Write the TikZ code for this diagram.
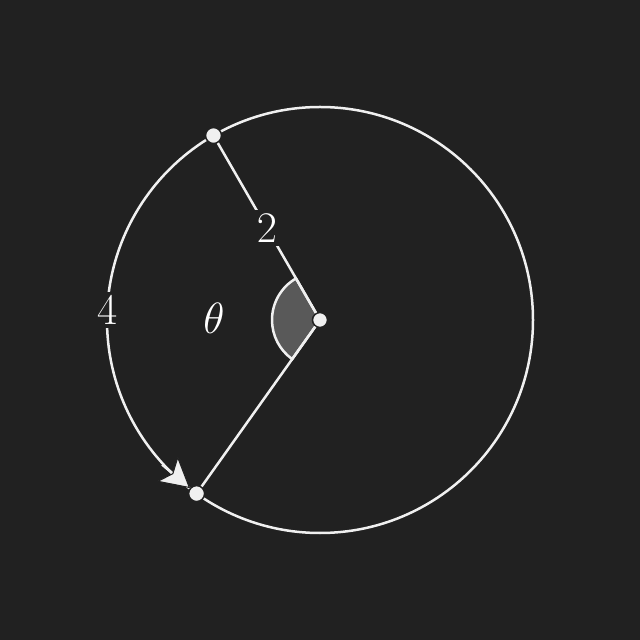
\documentclass[tikz,border=0pt]{standalone}
\usepackage{amsmath}
\usetikzlibrary{arrows.meta}
\usetikzlibrary{calc}
\usetikzlibrary{positioning}
\definecolor{bg}{HTML}{212121}
\definecolor{fg}{HTML}{F0F0F0}
\definecolor{wedge}{HTML}{595959}
\begin{document}
\begin{tikzpicture}[line width=0.05cm,fg,
  dot/.style={draw=bg,line width=0.03cm,circle,fill=fg,inner sep=0pt,minimum size=0.32cm},
  lbl/.style={fill=bg,inner sep=2pt,text=white,font=\fontsize{24}{28}\selectfont}]
  \fill[bg] (-6.4,-6.4) rectangle (6.4,6.4);
  \useasboundingbox (-6.4,-6.4) rectangle (6.4,6.4);

  \coordinate (0) at (0:0);
  \coordinate (b) at (234.59:4.26);
  \draw[fill=wedge] (0) -- (120:0.96) arc (120:234.59:0.96) -- cycle;
  \draw (0) circle (4.26);

  \coordinate (tip) at ($(b)+(140:0.17)$);
  \coordinate (tail) at ($(b)+(140:0.9)$);
  \draw[-{Stealth[length=0.6cm,width=0.66cm,inset=0.14cm,fill=fg,color=bg,line width=0.02cm]}] (tail) -- (tip);

  \node (1) at (120:4.26)[dot]{};
  \node (2) at (b)[dot]{};
  \node (3) at (0)[dot,minimum size=0.3cm]{};

  \draw (3) -- node[lbl]{$2$} (1);
  \draw (3) -- (2);
  \node (4) at (177.3:4.26)[lbl]{$4$};
  \node (5) at (178.9:2.12)[lbl,fill=none]{$\theta$};
\end{tikzpicture}
\end{document}
